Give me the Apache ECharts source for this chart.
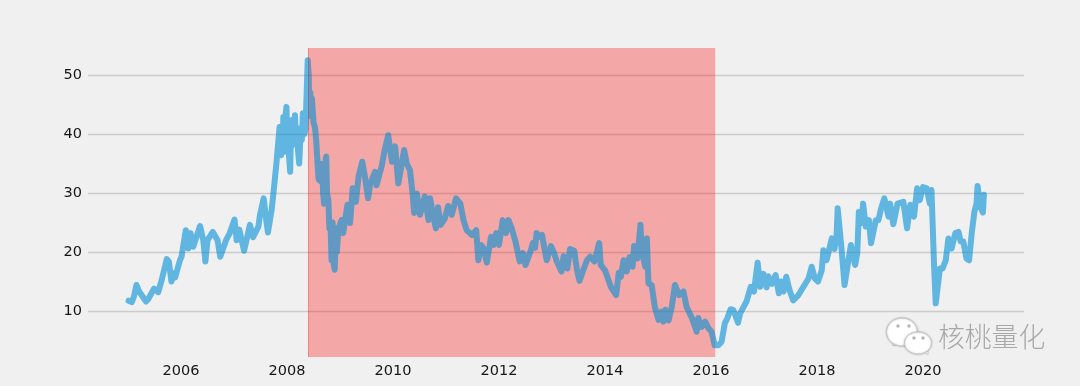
<!DOCTYPE html>
<html><head><meta charset="utf-8">
<style>html,body{margin:0;padding:0;background:#f0f0f0}#c{width:1080px;height:386px}</style>
<script src="https://cdn.jsdelivr.net/npm/echarts@6/dist/echarts.min.js"></script>
</head><body><div id="c"></div>
<script>
const yearsA = [2005.01,2005.07,2005.11,2005.16,2005.21,2005.34,2005.38,2005.49,2005.57,2005.64,2005.73,2005.77,2005.82,2005.86,2005.89,2005.98,2006.01,2006.09,2006.14,2006.18,2006.23,2006.36,2006.42,2006.46,2006.5,2006.6,2006.69,2006.74,2006.85,2006.92,2007.01,2007.05,2007.1,2007.19,2007.3,2007.36,2007.46,2007.49,2007.56,2007.6,2007.64,2007.71,2007.75,2007.8];
const pricesA = [11.75,11.5,12.4,14.4,13.3,11.6,12,13.8,13.2,15.4,18.8,18.4,15,16.4,15.7,18.6,19.2,23.7,20.6,23.2,20.9,24.4,22,18.4,22,23.4,22,19.2,22,23.2,25.5,22,23.8,20.2,24.6,22.5,24.3,26.3,29.1,26,23.3,27.1,30.5,35];
const yearsB = [2007.86,2007.875,2007.89,2007.905,2007.92,2007.93,2007.95,2007.97,2007.99,2008.0,2008.02,2008.04,2008.06,2008.075,2008.09,2008.1,2008.125,2008.15,2008.17,2008.19,2008.21,2008.23,2008.26,2008.28,2008.3,2008.33,2008.35,2008.39,2008.41,2008.42,2008.44,2008.45,2008.47,2008.49,2008.5,2008.53,2008.55,2008.57,2008.59,2008.6,2008.62,2008.64,2008.67,2008.68,2008.7,2008.72,2008.74,2008.755,2008.78,2008.8,2008.82,2008.84,2008.86,2008.88,2008.9,2008.92,2008.94,2008.97,2009.03];
const pricesB = [41.2,37,36.4,41,37,42.9,37,43,44.6,40,39,36,33.6,41,38,42.4,39,43.2,39,40,37,35,41,39,43.5,40,41,52.5,50,44,47,43,46,46,42,41,39,36,33,32.2,35,32,34.5,30,28.2,35,36.2,30,28.8,24,25,18.6,25,18,17,24,20,24,25.4];
const yearsC = [2009.06,2009.14,2009.19,2009.24,2009.3,2009.35,2009.42,2009.47,2009.53,2009.57,2009.66,2009.69,2009.79,2009.85,2009.91,2009.98,2010.04,2010.1,2010.21,2010.26,2010.32,2010.37,2010.4,2010.45,2010.51,2010.6,2010.67,2010.7,2010.76,2010.81,2010.85,2010.9,2010.98,2011.04,2011.11,2011.19,2011.27,2011.33,2011.39,2011.49,2011.57,2011.61,2011.66,2011.71,2011.77,2011.85,2011.9,2011.95,2012.0,2012.07,2012.13,2012.18,2012.24,2012.31,2012.39,2012.45,2012.5,2012.59,2012.64,2012.68,2012.71,2012.76,2012.81,2012.9,2012.98,2013.04,2013.09,2013.18,2013.22,2013.29,2013.34,2013.42,2013.47,2013.52,2013.58,2013.66,2013.72,2013.8,2013.89,2013.92,2014.0,2014.11,2014.21,2014.26,2014.3,2014.35,2014.41,2014.46,2014.52,2014.55,2014.61,2014.67,2014.69,2014.76,2014.79,2014.82,2014.88,2014.94,2015.01,2015.07,2015.1,2015.14,2015.2,2015.26,2015.32,2015.4,2015.48,2015.54,2015.64,2015.73,2015.76,2015.82,2015.89,2015.95,2016.01,2016.07,2016.14,2016.2,2016.26,2016.31,2016.37,2016.42,2016.51,2016.55,2016.67,2016.75,2016.81,2016.88,2016.93,2016.99,2017.05,2017.08,2017.15,2017.22,2017.28,2017.32,2017.37,2017.42,2017.48,2017.55,2017.65,2017.71,2017.84,2017.9,2017.96,2018.02,2018.09,2018.12,2018.18,2018.28,2018.33,2018.37,2018.39,2018.46,2018.52,2018.59,2018.64,2018.72,2018.76,2018.79,2018.84,2018.87,2018.92,2018.98,2019.02,2019.11,2019.16,2019.21,2019.27,2019.3,2019.35,2019.38,2019.44,2019.52,2019.63,2019.7,2019.76,2019.83,2019.89,2019.94,2020.0,2020.07,2020.13,2020.16,2020.18,2020.21,2020.24,2020.26,2020.32,2020.37,2020.43,2020.48,2020.54,2020.61,2020.67,2020.71,2020.76,2020.82,2020.87,2020.92,2020.97,2021.01,2021.03,2021.08,2021.13,2021.15];
const pricesC = [23.2,28,24.9,30.8,28.5,32.8,35.3,32.8,29.1,31.5,33.6,31.3,34.7,37.6,39.8,35.3,37.9,31.6,37.3,35,33.9,29.9,26.6,29.9,26.3,29.4,25.4,29.1,26,24,27.6,24.6,25.7,27.8,26.3,29.1,28.2,25.4,23.7,22.9,23.7,18.6,21.2,20.6,18.2,22.6,21.2,23.2,21.2,25.4,23.2,25.4,24,21.8,18.4,19.8,17.8,20,21.5,20.7,23.2,22.6,22.9,18.6,21,19.8,18.4,16.7,19.3,17.2,20.5,20.2,17,15.1,16.7,18.6,19.2,18.4,21.5,17.8,16.9,14.1,12.7,16.5,15.8,18.6,16.7,19.1,17.5,21,18.9,24.6,20.3,17.5,22.3,14.7,14.4,10.7,8.5,9.9,8.2,10.2,8.4,10.7,14.4,12.7,13.3,10.7,8.8,6.5,8.8,7.3,8.2,7.1,6.5,4.2,4.2,4.8,7.9,8.8,10.3,10.2,8,9.6,11.6,14.1,13.3,18.2,14.1,16.3,14,15.9,14.6,16.1,13,15,13.3,15.8,13.6,11.8,12.7,13.6,15.5,17.5,15.5,15,16.9,20.3,18.6,22.3,20.5,22.9,27.4,20.9,14.4,18.4,21.2,17.8,19.8,26.8,24.9,28.2,24.3,25.4,21.5,25.4,25.4,27.4,29.1,29.1,26,28.2,24.7,28.2,28.5,24,28,26,30.8,28.8,31,30.8,28.2,30.5,25.4,17.5,11.3,11.6,17.2,17.2,18.6,22.3,20.6,23.2,23.4,21.8,21.8,18.9,18.6,23.2,26.8,28.2,31.2,27.7,26.7,29.7,26.8];
const xTicks = [2006,2008,2010,2012,2014,2016,2018,2020];
const yTicks = [10,20,30,40,50];
const shadeRange = [2008.4,2016.08];
const watermark = "核桃量化";
const years = yearsA.concat(yearsB, yearsC);
const prices = pricesA.concat(pricesB, pricesC);

const chart = echarts.init(document.getElementById('c'), null, {renderer:'canvas'});
const labelFont = {fontFamily:'DejaVu Sans', fontSize:14.5, color:'#161616'};
const bubble = (cx,cy,rx,ry,z) => ({type:'ellipse',shape:{cx,cy,rx,ry},style:{fill:'#ffffff',stroke:'#c8c8c8',lineWidth:1,shadowColor:'rgba(0,0,0,0.25)',shadowBlur:2},z});
const eye = (cx,cy) => ({type:'circle',shape:{cx,cy,r:1.7},style:{fill:'#b5b5b5'},z:12});
chart.setOption({
  animation:false,
  backgroundColor:'#f0f0f0',
  grid:{left:88,right:56,top:48,bottom:29},
  xAxis:{type:'value',min:2004.245,max:2021.906,
    axisLine:{show:false},splitLine:{show:false},
    axisTick:{show:false,customValues:xTicks},
    axisLabel:Object.assign({customValues:xTicks,formatter:v=>String(v),verticalAlign:'top',showMinLabel:true,showMaxLabel:true},labelFont,{margin:7})},
  yAxis:{type:'value',min:2.2,max:54.58,
    axisLine:{show:false},
    axisTick:{show:false,customValues:yTicks},
    splitLine:{show:true,lineStyle:{color:'#cbcbcb',width:1.4}},
    axisLabel:Object.assign({customValues:yTicks,margin:6},labelFont)},
  series:[
    {type:'line',data:[],z:1,silent:true,
     markArea:{silent:true,itemStyle:{color:'rgba(255,0,0,0.3)',borderWidth:0},data:[[{xAxis:shadeRange[0]},{xAxis:shadeRange[1]}]]},
     markLine:{silent:true,symbol:'none',label:{show:false},lineStyle:{color:'rgba(255,0,0,0.3)',type:'solid',width:1},data:[{xAxis:shadeRange[0]}]}},
    {type:'line',data:years.map((y,i)=>[y,prices[i]]),z:2,symbol:'none',
     lineStyle:{color:'#008fd5',opacity:0.6,width:6,join:'round',cap:'round'}}
  ],
  graphic:[
    {type:'polygon',shape:{points:[[892,338],[893,346],[902,343]]},style:{fill:'#ffffff',stroke:'#c8c8c8'},z:10},
    bubble(902,332,15.5,14,10),
    {type:'polygon',shape:{points:[[922,350],[928,355],[928,346]]},style:{fill:'#ffffff',stroke:'#c8c8c8'},z:11},
    bubble(918,343,13.5,11,11),
    eye(898,326),eye(909,326),eye(914,338),eye(923,338),
    {type:'text',left:938,top:323,z:12,
     style:{text:watermark,font:'300 26.8px "Noto Sans CJK SC"',fill:'#a8a8a8',textShadowColor:'#ffffff',textShadowBlur:0,textShadowOffsetX:1,textShadowOffsetY:1}}
  ]
});
</script></body></html>
